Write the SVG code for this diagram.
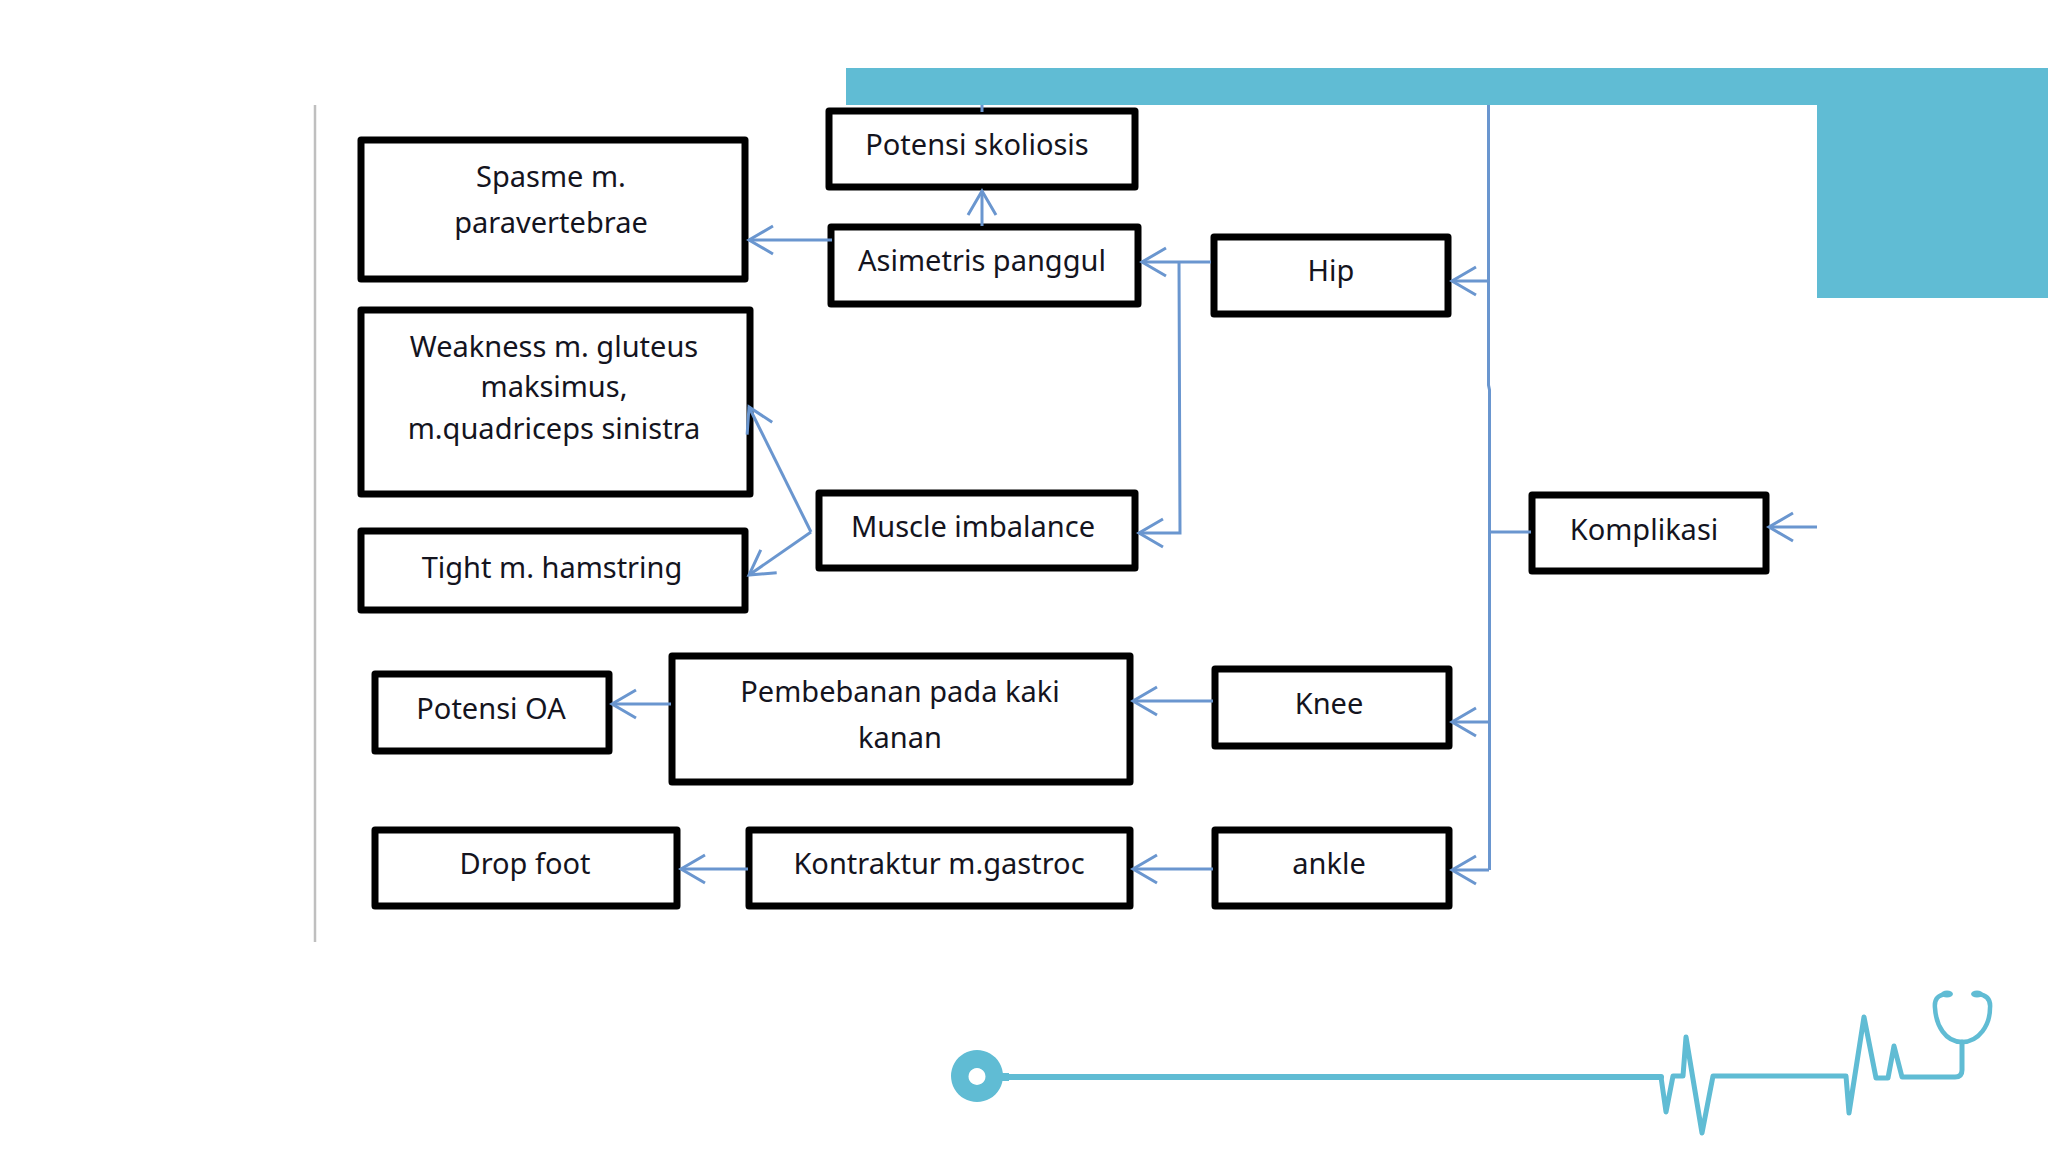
<svg xmlns="http://www.w3.org/2000/svg" width="2048" height="1152" viewBox="0 0 2048 1152">
<style>
.box{fill:#fff;stroke:#000;stroke-width:7;stroke-linejoin:round}
.t{font-family:"Noto Sans","Open Sans",sans-serif;font-size:29px;fill:#14141e;text-anchor:middle}
.c{fill:none;stroke:#6a96cf;stroke-width:3}
.a{marker-end:url(#arr)}
.teal{fill:#60bcd4}
.ecg{fill:none;stroke:#60bcd4;stroke-linejoin:round;stroke-linecap:round}
</style>
<defs>
<marker id="arr" markerUnits="userSpaceOnUse" markerWidth="30" markerHeight="34" refX="26" refY="16" orient="auto" overflow="visible">
<path d="M2,2 L26,16 L2,30" fill="none" stroke="#6a96cf" stroke-width="3"/>
</marker>
</defs>
<rect width="2048" height="1152" fill="#fff"/>
<g id="background">
<path class="teal" d="M846,68H2048V298H1817V105H846Z"/>
<path d="M315,105V942" stroke="#bfbfbf" stroke-width="2.5" fill="none"/>
</g>
<g id="n-potensi-skoliosis"><rect class="box" x="829" y="111" width="306" height="76"/><text class="t" x="977" y="155">Potensi skoliosis</text></g>
<g id="n-asimetris"><rect class="box" x="831" y="227" width="307" height="77"/><text class="t" x="982" y="271">Asimetris panggul</text></g>
<g id="n-hip"><rect class="box" x="1214" y="237" width="234" height="77"/><text class="t" x="1331" y="281">Hip</text></g>
<g id="n-spasme"><rect class="box" x="361" y="140" width="384" height="139"/><text class="t" x="551" y="187">Spasme m.</text><text class="t" x="551" y="233">paravertebrae</text></g>
<g id="n-weakness"><rect class="box" x="361" y="310" width="389" height="184"/><text class="t" x="554" y="357">Weakness m. gluteus</text><text class="t" x="554" y="397">maksimus,</text><text class="t" x="554" y="439">m.quadriceps sinistra</text></g>
<g id="n-tight"><rect class="box" x="361" y="531" width="384" height="79"/><text class="t" x="552" y="578">Tight m. hamstring</text></g>
<g id="n-muscle"><rect class="box" x="819" y="493" width="316" height="75"/><text class="t" x="973" y="537">Muscle imbalance</text></g>
<g id="n-komplikasi"><rect class="box" x="1532" y="495" width="234" height="76"/><text class="t" x="1644" y="540">Komplikasi</text></g>
<g id="n-potensi-oa"><rect class="box" x="375" y="674" width="234" height="77"/><text class="t" x="491" y="719">Potensi OA</text></g>
<g id="n-pembebanan"><rect class="box" x="672" y="656" width="458" height="126"/><text class="t" x="900" y="702">Pembebanan pada kaki</text><text class="t" x="900" y="748">kanan</text></g>
<g id="n-knee"><rect class="box" x="1215" y="669" width="234" height="77"/><text class="t" x="1329" y="714">Knee</text></g>
<g id="n-drop-foot"><rect class="box" x="375" y="830" width="302" height="76"/><text class="t" x="525" y="874">Drop foot</text></g>
<g id="n-kontraktur"><rect class="box" x="749" y="830" width="381" height="76"/><text class="t" x="939" y="874">Kontraktur m.gastroc</text></g>
<g id="n-ankle"><rect class="box" x="1215" y="830" width="234" height="76"/><text class="t" x="1329" y="874">ankle</text></g>
<g id="connectors">
<path class="c" d="M1488.5,105V385L1489.5,390V870"/>
<path class="c" d="M982,105V112"/>
<path class="c a" d="M1489,281H1452"/>
<path class="c a" d="M1211,262H1142"/>
<path class="c a" d="M1179,262L1180,533H1139"/>
<path class="c a" d="M982,226V191"/>
<path class="c a" d="M832,240H749"/>
<path class="c a" d="M1817,527H1769"/>
<path class="c" d="M1531,532H1489"/>
<path class="c a" d="M811,532L749,407"/>
<path class="c a" d="M811,532L749,575"/>
<path class="c a" d="M1489,722H1452"/>
<path class="c a" d="M1213,701H1133"/>
<path class="c a" d="M671,704H612"/>
<path class="c a" d="M1489,870H1452"/>
<path class="c a" d="M1213,869H1133"/>
<path class="c a" d="M748,869H681"/>
</g>
<g id="stethoscope">
<path class="teal" fill-rule="evenodd" d="M977,1050a26,26 0 1,0 .01,0ZM977,1068a8.5,8.5 0 1,1 -.01,0Z"/>
<path class="ecg" stroke-width="6" d="M1003,1077H1661"/>
<path d="M1001,1073h8v8h-8z" class="teal"/>
<path class="ecg" stroke-width="5" d="M1661,1077L1666,1112L1673,1076H1683L1686,1037L1702,1133L1713,1076H1846L1849,1113L1864,1017L1876,1078H1888L1894,1046L1902,1077H1955Q1962,1077 1962,1070V1042"/>
<path class="ecg" stroke-width="4.5" d="M1946,994C1938,995 1934,999 1935,1008C1936,1025 1945,1042 1962,1042C1979,1042 1990,1025 1990,1008C1991,999 1986,995 1978,994"/>
<ellipse class="teal" cx="1947" cy="994" rx="6" ry="3.5"/><ellipse class="teal" cx="1977" cy="994" rx="6" ry="3.5"/>
</g>
</svg>
